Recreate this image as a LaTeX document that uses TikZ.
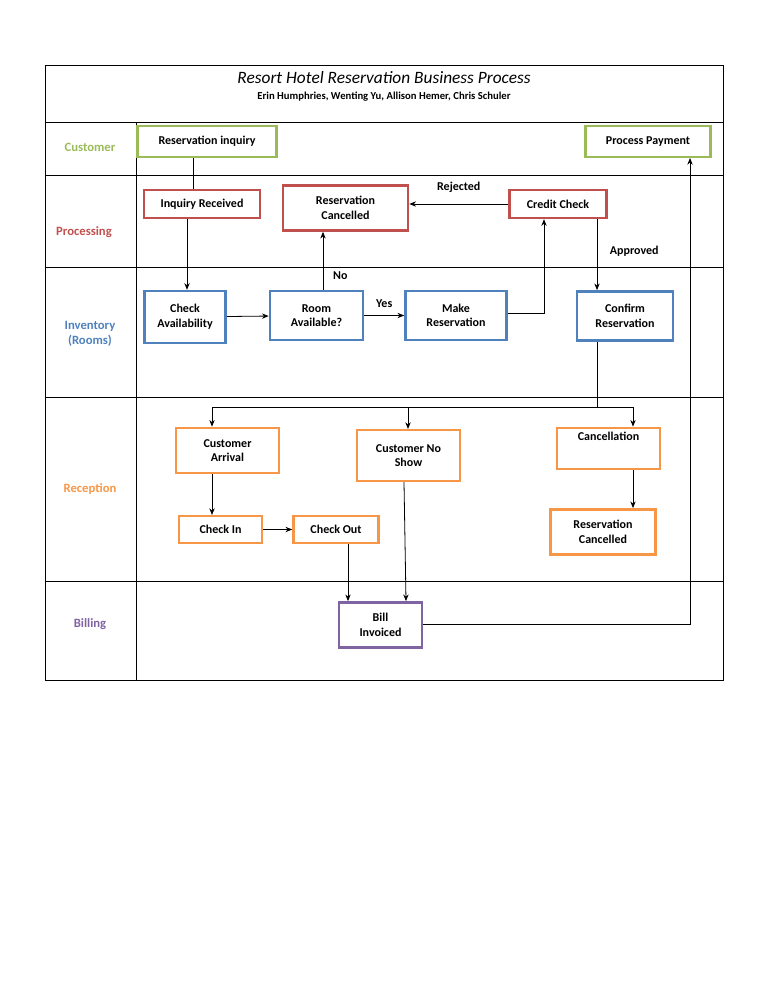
\documentclass[tikz,border=0pt]{standalone}
\usepackage{fontspec}
\setmainfont{Carlito}
\usetikzlibrary{arrows.meta}
\definecolor{cgreen}{RGB}{155,187,89}
\definecolor{cred}{RGB}{192,80,77}
\definecolor{cblue}{RGB}{79,129,189}
\definecolor{corange}{RGB}{247,150,70}
\definecolor{cpurple}{RGB}{128,100,162}
\begin{document}
\begin{tikzpicture}[x=0.75pt,y=-0.75pt,
  box/.style={draw, line width=1.8pt, align=center, inner sep=0pt, font=\fontsize{9}{11}\selectfont\bfseries},
  lane/.style={font=\fontsize{9.5}{11}\selectfont\bfseries, align=center},
  lbl/.style={font=\fontsize{9}{11}\selectfont\bfseries},
  arr/.style={-{Stealth[length=5pt,width=4pt]}, line width=0.6pt},
  ln/.style={line width=0.6pt}]
\useasboundingbox (0,0) rectangle (768,994);
% frame and lanes
\draw[line width=0.6pt] (45,65) rectangle (723,680);
\foreach \y in {122,175,267,397,581} \draw[line width=0.6pt] (45,\y) -- (723,\y);
\draw[line width=0.6pt] (136,122) -- (136,680);
\node[font=\fontsize{13}{15}\selectfont\itshape] (title) at (384,78) {Resort Hotel Reservation Business Process};
\node[font=\fontsize{8}{10}\selectfont\bfseries] (authors) at (384,97) {Erin Humphries, Wenting Yu, Allison Hemer, Chris Schuler};
\node[lane, text=cgreen] (lcust) at (90,147) {Customer};
\node[lane, text=cred] (lproc) at (84,232) {Processing};
\node[lane, text=cblue] (linv) at (90,334) {Inventory\\(Rooms)};
\node[lane, text=corange] (lrec) at (90,489) {Reception};
\node[lane, text=cpurple] (lbill) at (90,624) {Billing};
% nodes
\node[box, draw=cgreen, minimum width=104pt, minimum height=23pt] (inq) at (207,141.5) {Reservation inquiry};
\node[box, draw=cgreen, minimum width=94pt, minimum height=23pt] (pay) at (648,141.5) {Process Payment};
\node[box, draw=cred, minimum width=87pt, minimum height=21pt] (rec) at (202,204) {Inquiry Received};
\node[box, draw=cred, minimum width=94pt, minimum height=34pt] (canc1) at (345.5,208) {Reservation\\Cancelled};
\node[box, draw=cred, minimum width=73pt, minimum height=21pt] (credit) at (558,204) {Credit Check};
\node[box, draw=cblue, minimum width=61pt, minimum height=39pt] (avail) at (185,317) {Check\\Availability};
\node[box, draw=cblue, minimum width=70pt, minimum height=37pt] (room) at (316.5,315.5) {Room\\Available?};
\node[box, draw=cblue, minimum width=76pt, minimum height=37pt] (make) at (456,315.5) {Make\\Reservation};
\node[box, draw=cblue, minimum width=72pt, minimum height=37pt] (conf) at (625,316) {Confirm\\Reservation};
\node[box, draw=corange, minimum width=77pt, minimum height=34pt] (arr) at (227.5,450.5) {Customer\\Arrival};
\node[box, draw=corange, minimum width=77pt, minimum height=38pt] (noshow) at (408.5,455.5) {Customer No\\Show};
\node[box, draw=corange, minimum width=77pt, minimum height=31pt] (cancel) at (608.5,448.5) {Cancellation\\[8pt]};
\node[box, draw=corange, minimum width=62pt, minimum height=20pt] (cin) at (220.5,529.5) {Check In};
\node[box, draw=corange, minimum width=64pt, minimum height=20pt] (cout) at (336,529.5) {Check Out};
\node[box, draw=corange, minimum width=79pt, minimum height=34pt] (canc2) at (603,532) {Reservation\\Cancelled};
\node[box, draw=cpurple, minimum width=62pt, minimum height=34pt] (bill) at (380.5,625) {Bill\\Invoiced};
% connectors
\draw[ln] (inq.south -| 193,0) -- (rec.north -| 193,0);
\draw[arr] (rec.south -| 187,0) -- (avail.north -| 187,0);
\draw[arr] (avail) -- (room);
\draw[arr] (room) -- node[lbl, above, yshift=2pt] (yes) {Yes} (make);
\draw[arr] (room.north -| 323,0) -- node[lbl, right, pos=0.25, xshift=4pt] (no) {No} (canc1.south -| 323,0);
\coordinate (mk) at (544,313);
\draw[arr] (make.east |- mk) -- (mk) -- (credit.south -| mk);
\draw[arr] (credit.west) -- node[lbl, above, yshift=5pt] (rej) {Rejected} (canc1.east |- credit.west);
\draw[arr] (credit.south -| 597,0) -- node[lbl, right, pos=0.45, xshift=6pt] (appr) {Approved} (conf.north -| 597,0);
\coordinate (sp) at (597,407);
\draw[ln] (conf.south -| sp) -- (sp);
\draw[ln] (212,407) -- (633,407);
\draw[arr] (212,407) -- (arr.north -| 212,0);
\draw[arr] (408,407) -- (noshow.north -| 408,0);
\draw[arr] (633,407) -- (cancel.north -| 633,0);
\draw[arr] (arr.south -| 212,0) -- (cin.north -| 212,0);
\draw[arr] (cin) -- (cout);
\draw[arr] (cancel.south -| 633,0) -- (canc2.north -| 633,0);
\draw[arr] (cout.south -| 348,0) -- (bill.north -| 348,0);
\draw[arr] (noshow.south -| 404,0) -- (bill.north -| 406,0);
\coordinate (bp) at (690,624);
\draw[arr] (bill.east |- bp) -- (bp) -- (pay.south -| bp);
\end{tikzpicture}
\end{document}
